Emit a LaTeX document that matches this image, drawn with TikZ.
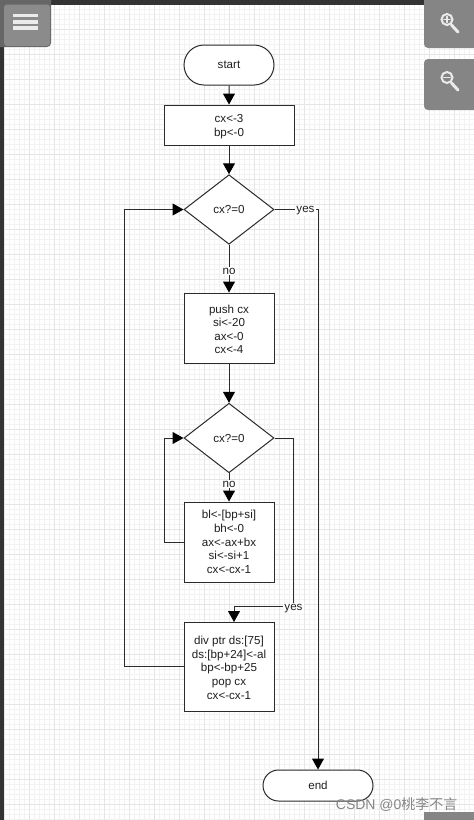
\documentclass[tikz,border=0pt]{standalone}
\usepackage{fontspec}
\setmainfont{Liberation Sans}
\newfontfamily\cjkf{Noto Sans CJK SC}
\usetikzlibrary{shapes.geometric,shapes.misc,arrows.meta}
\definecolor{gridminor}{gray}{0.95}
\definecolor{gridmajor}{gray}{0.90}
\definecolor{linec}{gray}{0.17}
\definecolor{btn}{gray}{0.52}
\tikzset{
  every node/.style={font=\fontsize{11.6}{13.6}\selectfont,text=black!88},
  shp/.style={draw=linec,line width=1pt,fill=white,inner sep=0pt,align=center},
  procbox/.style={shp,rectangle,minimum width=#1},
  termbox/.style={shp,rounded rectangle},
  decbox/.style={shp,diamond,aspect=1.29,minimum width=90pt,minimum height=69.5pt},
  conn/.style={draw=linec,line width=1pt},
  arr/.style={conn,-{Triangle[length=11pt,width=12pt,color=black]}},
  lab/.style={fill=white,inner sep=1pt},
  button/.style={fill=btn,draw=none,rounded corners=4pt},
  icon/.style={draw=white!92!black,line cap=round}
}
\begin{document}
\begin{tikzpicture}[x=1pt,y=-1pt]
\useasboundingbox (0,0) rectangle (474,820);
\fill[white] (0,0) rectangle (474,820);
% grid
\foreach \g in {4,9,...,474} \draw[gridminor,line width=0.35pt] (\g,4) -- (\g,820);
\foreach \g in {4,9,...,820} \draw[gridminor,line width=0.35pt] (4,\g) -- (474,\g);
\foreach \g in {4,29,...,474} \draw[gridmajor,line width=0.4pt] (\g,4) -- (\g,820);
\foreach \g in {4,29,...,820} \draw[gridmajor,line width=0.4pt] (4,\g) -- (474,\g);
% window edge
\fill[black!80] (0,0) rectangle (474,4.5);
\fill[black!80] (0,0) rectangle (3.8,820);
% buttons
\fill[black!60,rounded corners=4pt] (-6,-6) rectangle (51,47);
\fill[btn!95!white,rounded corners=3pt] (4,4.5) rectangle (50,46);
\fill[white!92!black] (13,13.5) rectangle (38,17);
\fill[white!92!black] (13,20) rectangle (38,23.5);
\fill[white!92!black] (13,26) rectangle (38,29.5);
\fill[button] (424,-6) rectangle (480,48);
\fill[button] (424,59) rectangle (480,110);
\draw[icon,line width=2pt] (447,19.5) circle (5.5);
\draw[icon,line width=1.6pt] (444,19.5) -- (450,19.5) (447,16.5) -- (447,22.5);
\draw[icon,line width=3pt] (451.5,25) -- (458,32);
\draw[icon,line width=2pt] (447,77.5) circle (5.5);
\draw[icon,line width=1.6pt] (444,77.5) -- (450,77.5);
\draw[icon,line width=3pt] (451.5,83) -- (458,90);
\fill[btn] (424,812) rectangle (474,820);
% nodes
\node[termbox,minimum width=90pt,minimum height=40pt] (start) at (229,65) {\raisebox{-1pt}{start}};
\node[procbox=130pt,minimum height=40pt] (init) at (229,125) {\rule{0pt}{11pt}cx<-3\\bp<-0};
\node[decbox] (d1) at (229,209.5) {\raisebox{-1pt}{cx?=0}};
\node[procbox=90pt,minimum height=70pt] (outer) at (229,328) {\rule{0pt}{11pt}push cx\\si<-20\\ax<-0\\ cx<-4};
\node[decbox] (d2) at (229,438) {\raisebox{-1pt}{cx?=0}};
\node[procbox=90pt,minimum height=80pt] (inner) at (229,542) {bl<-[bp+si]\\bh<-0\\ax<-ax+bx\\si<-si+1\\cx<-cx-1};
\node[procbox=90pt,minimum height=89pt] (after) at (229,666.5) {\rule{0pt}{11pt}div ptr ds:[75]\\ds:[bp+24]<-al\\bp<-bp+25\\pop cx\\cx<-cx-1};
\node[termbox,minimum width=110pt,minimum height=31pt] (end) at (318,785.5) {\raisebox{-1pt}{end}};
% helper points
\coordinate (r1) at (318,209.5);
\coordinate (r2) at (293.5,438);
\coordinate (j2) at (293.5,606.5);
\coordinate (t4) at (234,622);
\coordinate (l4) at (124,666.5);
\coordinate (l3) at (164,542);
% connectors
\draw[arr] (start) -- (init);
\draw[arr] (init) -- (d1);
\draw[arr] (d1) -- (outer);
\draw[arr] (outer) -- (d2);
\draw[arr] (d2) -- (inner);
\draw[arr] (d1.east) -- (r1) -- (end.north -| r1);
\draw[arr] (d2.east) -- (r2) -- (j2) -- (j2 -| t4) -- (t4);
\draw[arr] (inner.west) -- (l3) -- (l3 |- d2.west) -- (d2.west);
\draw[arr] (after.west) -- (l4) -- (l4 |- d1.west) -- (d1.west);
% labels
\node[lab] (y1) at (305.5,211) {yes};
\node[lab] (n1) at (229,271) {no};
\node[lab] (n2) at (229,484) {no};
\node[lab] (y2) at (293.5,608.5) {yes};
% watermark
\node[text=black!48,font=\fontsize{14}{16}\selectfont,anchor=east] (mark) at (461,805) {CSDN @0{\cjkf 桃李不言}};
\end{tikzpicture}
\end{document}
